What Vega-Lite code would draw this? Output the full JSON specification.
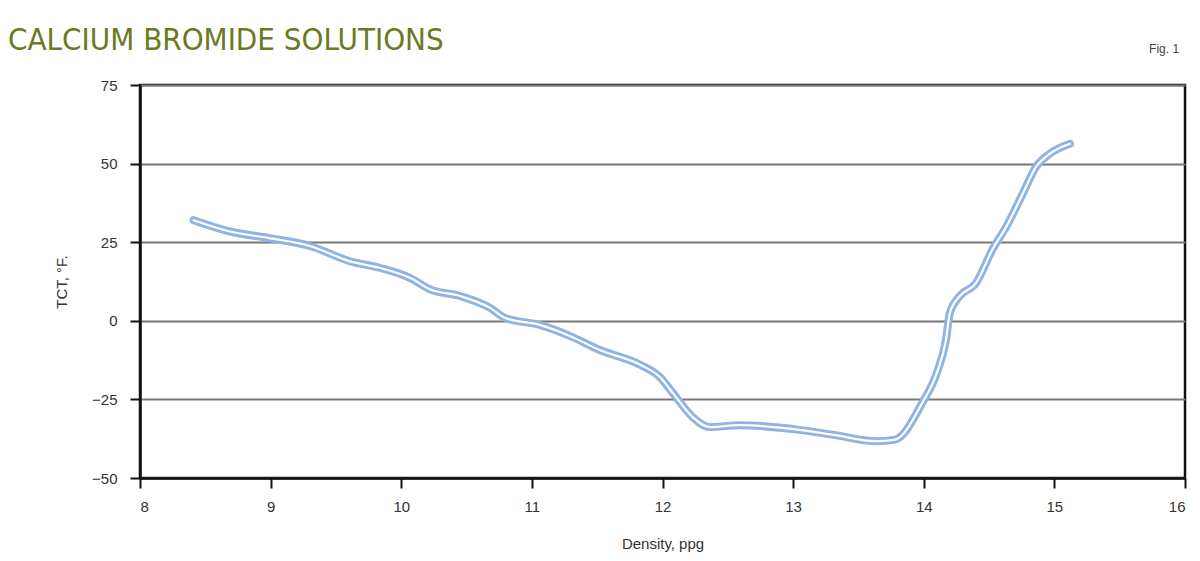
{
  "$schema": "https://vega.github.io/schema/vega-lite/v6.json",
  "width": 1045,
  "height": 393,
  "autosize": {"type": "none"},
  "padding": {"left": 140, "top": 85, "right": 15, "bottom": 83},
  "background": "white",
  "title": {
    "text": "CALCIUM BROMIDE SOLUTIONS",
    "anchor": "start",
    "frame": "group",
    "dx": -132,
    "dy": 44,
    "offset": 30,
    "font": "Liberation Sans Narrow, DejaVu Sans Condensed, Roboto, sans-serif",
    "fontSize": 31,
    "fontWeight": "normal",
    "color": "#6b7a22"
  },
  "config": {
    "view": {"stroke": "#111111", "strokeWidth": 2.5},
    "axis": {
      "labelFont": "Liberation Sans, Arial, sans-serif",
      "titleFont": "Liberation Sans, Arial, sans-serif",
      "labelFontSize": 15,
      "titleFontSize": 15,
      "titleFontWeight": "normal",
      "labelColor": "#333333",
      "titleColor": "#333333",
      "domainColor": "#111111",
      "domainWidth": 2.5,
      "tickColor": "#111111",
      "tickWidth": 2,
      "tickSize": 10
    }
  },
  "data": {
    "values": [
      {"density": 8.41, "tct": 32.0},
      {"density": 8.69, "tct": 28.4},
      {"density": 8.99, "tct": 26.3},
      {"density": 9.30, "tct": 23.8},
      {"density": 9.61, "tct": 18.9},
      {"density": 9.84, "tct": 16.8},
      {"density": 10.07, "tct": 13.6},
      {"density": 10.22, "tct": 10.0},
      {"density": 10.45, "tct": 7.9},
      {"density": 10.68, "tct": 4.1},
      {"density": 10.79, "tct": 1.0},
      {"density": 11.06, "tct": -1.3},
      {"density": 11.29, "tct": -4.8},
      {"density": 11.52, "tct": -9.3},
      {"density": 11.83, "tct": -14.0},
      {"density": 11.98, "tct": -17.9},
      {"density": 12.08, "tct": -23.0},
      {"density": 12.23, "tct": -30.6},
      {"density": 12.36, "tct": -33.8},
      {"density": 12.59, "tct": -33.2},
      {"density": 13.05, "tct": -34.7},
      {"density": 13.30, "tct": -36.2},
      {"density": 13.64, "tct": -38.3},
      {"density": 13.78, "tct": -37.8},
      {"density": 13.99, "tct": -26.0},
      {"density": 14.10, "tct": -16.6},
      {"density": 14.17, "tct": -6.1},
      {"density": 14.20, "tct": 2.5},
      {"density": 14.27, "tct": 7.6},
      {"density": 14.40, "tct": 12.0},
      {"density": 14.53, "tct": 23.0},
      {"density": 14.63, "tct": 29.8},
      {"density": 14.76, "tct": 40.6},
      {"density": 14.86, "tct": 49.0},
      {"density": 14.96, "tct": 53.0},
      {"density": 15.12, "tct": 56.3}
    ]
  },
  "encoding": {
    "x": {
      "field": "density",
      "type": "quantitative",
      "scale": {"domain": [8, 16], "nice": false, "zero": false},
      "axis": {"title": "Density, ppg", "values": [8, 9, 10, 11, 12, 13, 14, 15, 16], "grid": false, "titlePadding": 22, "labelPadding": 11}
    },
    "y": {
      "field": "tct",
      "type": "quantitative",
      "scale": {"domain": [-50, 75], "nice": false, "zero": false},
      "axis": {
        "title": "TCT, °F.",
        "values": [-50, -25, 0, 25, 50, 75],
        "grid": true,
        "gridColor": "#777777",
        "gridWidth": 2,
        "titlePadding": 22,
        "labelPadding": 13
      }
    }
  },
  "layer": [
    {"mark": {"type": "line", "interpolate": "monotone", "color": "#8fb4e3", "strokeWidth": 8, "strokeCap": "round"}},
    {"mark": {"type": "line", "interpolate": "monotone", "color": "#ffffff", "strokeWidth": 2.2, "strokeCap": "round"}},
    {
      "data": {"values": [{"density": 15.84, "tct": 86.5, "label": "Fig. 1"}]},
      "mark": {"type": "text", "clip": false, "fontSize": 12, "font": "Liberation Sans Narrow, Liberation Sans, sans-serif", "color": "#444444", "align": "center"},
      "encoding": {"text": {"field": "label"}}
    }
  ]
}
